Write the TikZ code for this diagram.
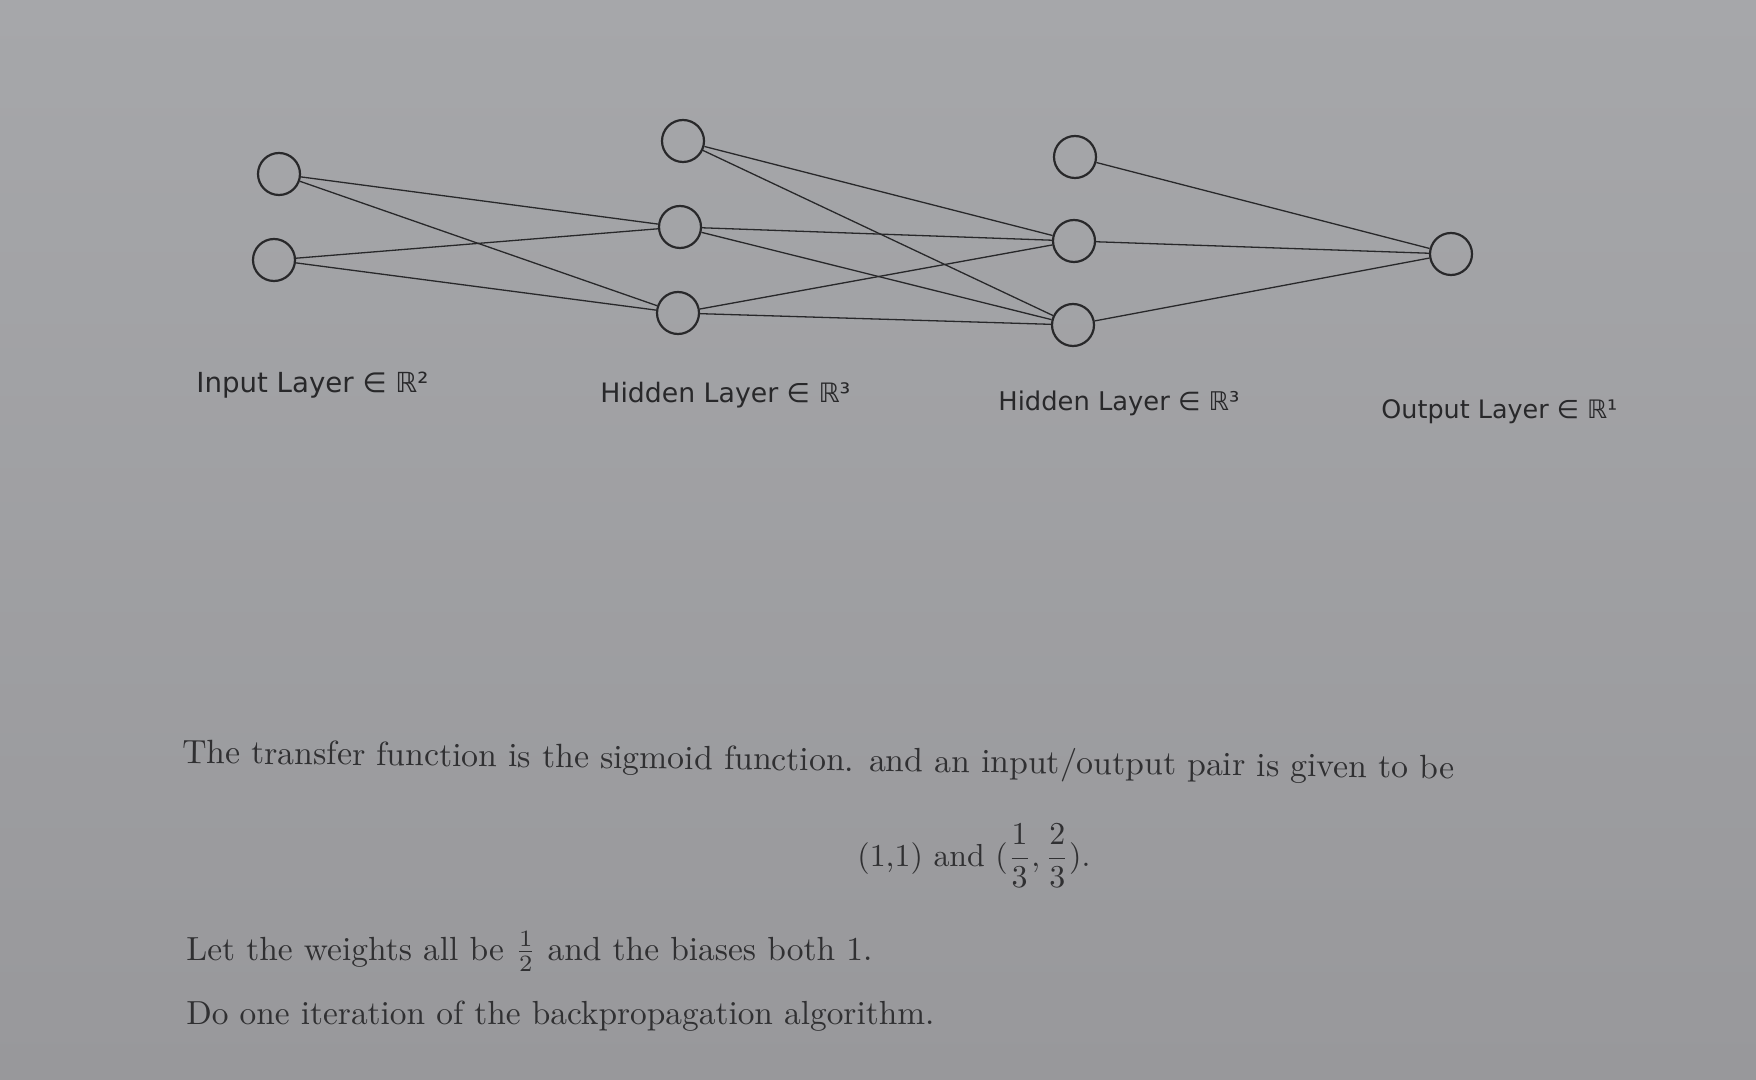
\documentclass[tikz,border=0pt]{standalone}
\usepackage{fontspec}
\usepackage{graphicx}
\newfontfamily\labelfont{DejaVu Sans}
\definecolor{papertop}{RGB}{166,167,170}
\definecolor{paperbot}{RGB}{152,152,155}
\definecolor{ink}{RGB}{40,40,42}
\definecolor{textink}{RGB}{48,48,50}
\tikzset{
  neuron/.style={circle,draw=ink,line width=1.1pt,minimum size=21pt,inner sep=0pt},
  link/.style={draw=ink,line width=0.65pt},
  layerlabel/.style={anchor=west,inner sep=0pt,text=ink,font=\labelfont},
  bodytext/.style={anchor=base west,inner sep=0pt,text=textink},
}
\begin{document}
\begin{tikzpicture}[x=0.5pt,y=-0.5pt]
\useasboundingbox (0,0) rectangle (1756,1080);
\shade[top color=papertop,bottom color=paperbot] (0,0) rectangle (1756,1080);
% input layer
\node[neuron] (i1) at (279,174) {};
\node[neuron] (i2) at (274,260) {};
% hidden layer 1
\node[neuron] (a1) at (683,141) {};
\node[neuron] (a2) at (680,227) {};
\node[neuron] (a3) at (678,313) {};
% hidden layer 2
\node[neuron] (b1) at (1075,157) {};
\node[neuron] (b2) at (1074,241) {};
\node[neuron] (b3) at (1073,325) {};
% output
\node[neuron] (o) at (1451,254) {};
% connections
\foreach \s in {i1,i2} \foreach \t in {a2,a3} \draw[link] (\s) -- (\t);
\foreach \s in {a1,a2,a3} \foreach \t in {b2,b3} \draw[link] (\s) -- (\t);
\foreach \s in {b1,b2,b3} \draw[link] (\s) -- (o);
% labels
\node[layerlabel] (lin) at (196,385) {\resizebox{116pt}{!}{Input Layer ∈ ℝ²}};
\node[layerlabel] (lh1) at (600,395) {\resizebox{125pt}{!}{Hidden Layer ∈ ℝ³}};
\node[layerlabel] (lh2) at (998,403) {\resizebox{120.5pt}{!}{Hidden Layer ∈ ℝ³}};
\node[layerlabel] (lout) at (1381,412) {\resizebox{118pt}{!}{Output Layer ∈ ℝ¹}};
% body text
\node[bodytext,rotate=-0.7] (t1) at (182,763) {\resizebox{636pt}{!}{The transfer function is the sigmoid function. and an input/output pair is given to be}};
\node[anchor=west,inner sep=0pt,text=textink] (eq) at (857,856) {\resizebox{116.5pt}{!}{(1,1) and $\displaystyle(\frac{1}{3},\frac{2}{3})$.}};
\node[bodytext] (t3) at (186,960) {\resizebox{343pt}{!}{Let the weights all be $\frac{1}{2}$ and the biases both 1.}};
\node[bodytext] (t4) at (186,1024) {\resizebox{374pt}{!}{Do one iteration of the backpropagation algorithm.}};
\end{tikzpicture}
\end{document}
